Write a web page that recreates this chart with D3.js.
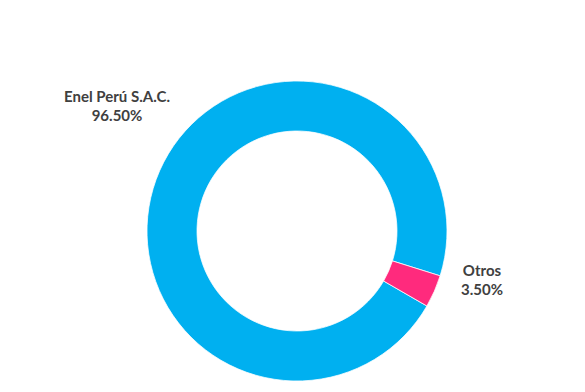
<!DOCTYPE html>
<html>
<head>
<meta charset="utf-8">
<script src="https://cdn.jsdelivr.net/npm/d3@7"></script>
<style>
  body { margin: 0; background: #fff; }
  .label { font-family: Lato, "Open Sans", sans-serif; font-weight: bold; font-size: 15px; fill: #404040; }
</style>
</head>
<body>
<script>
// Chart size
var width = 585,
  height = 392;

// Data
var names = ["Enel Perú S.A.C.", "Otros"];
var shares = [96.5, 3.5];
var colors = ["#00B0F0", "#FF2A7D"];

var data = names.map(function(n, i) {
  return { name: n, value: shares[i], color: colors[i] };
});

// Donut geometry
var cx = 297,
  cy = 231,
  outerR = 150,
  innerR = 100;

// Excel first slice angle ~120 deg
var pie = d3.pie()
  .sort(null)
  .value(function(d) { return d.value; })
  .startAngle(120 * Math.PI / 180)
  .endAngle(480 * Math.PI / 180);

var arc = d3.arc()
  .innerRadius(innerR)
  .outerRadius(outerR);

var svg = d3.select("body")
  .append("svg")
  .attr("width", width)
  .attr("height", height);

var g = svg.append("g")
  .attr("transform", "translate(" + cx + "," + cy + ")");

g.selectAll("path")
  .data(pie(data))
  .enter().append("path")
  .attr("d", arc)
  .attr("fill", function(d) { return d.data.color; })
  .attr("stroke", "#fff")
  .attr("stroke-width", 0.75);

// Labels (placed outside, like the Excel data labels)
var labelPos = [[117, 102], [482, 276]];

var lab = svg.selectAll(".lab")
  .data(data)
  .enter().append("text")
  .attr("class", "label")
  .attr("text-anchor", "middle")
  .attr("x", function(d, i) { return labelPos[i][0]; })
  .attr("y", function(d, i) { return labelPos[i][1]; });

lab.append("tspan")
  .attr("x", function(d, i) { return labelPos[i][0]; })
  .text(function(d) { return d.name; });

lab.append("tspan")
  .attr("x", function(d, i) { return labelPos[i][0]; })
  .attr("dy", 19)
  .text(function(d) { return d.value.toFixed(2) + "%"; });
</script>
</body>
</html>
